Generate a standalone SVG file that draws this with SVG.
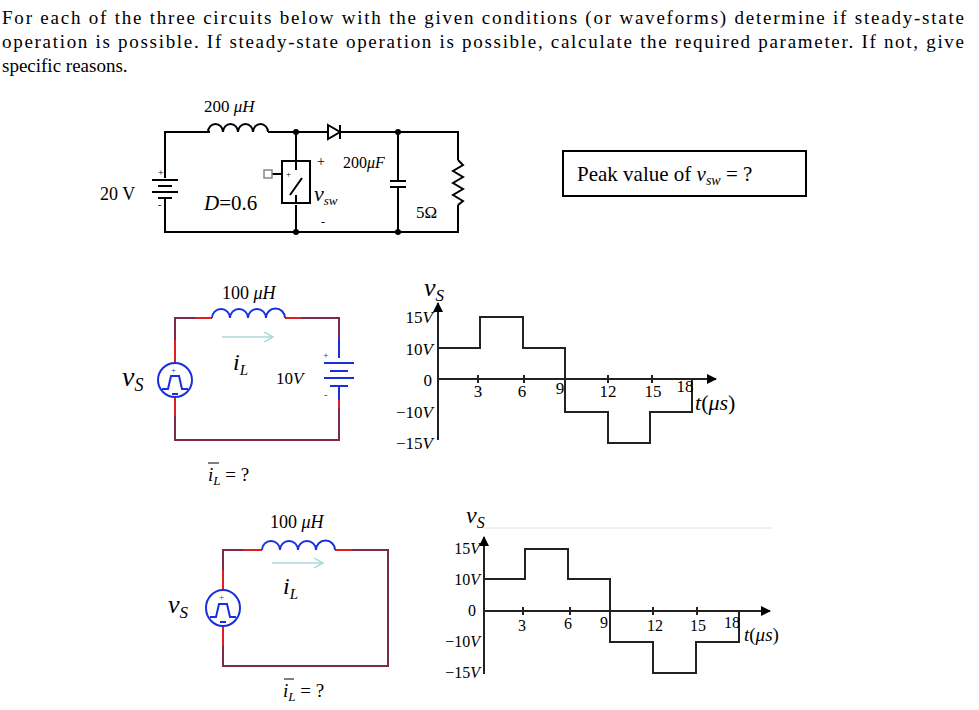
<svg xmlns="http://www.w3.org/2000/svg" width="979" height="710" viewBox="0 0 979 710">
<defs>
<style>
text{font-family:"Liberation Serif",serif;fill:#000}
.w{fill:none;stroke:#000;stroke-width:2}
.m{fill:none;stroke:#7a2a50;stroke-width:2}
.r{fill:none;stroke:#e02020;stroke-width:2}
.b{fill:none;stroke:#1a2ee0;stroke-width:2}
.ax{fill:none;stroke:#222;stroke-width:2}
.i{font-style:italic}
</style>
<marker id="ah" markerWidth="10" markerHeight="10" refX="9" refY="5" orient="auto" markerUnits="userSpaceOnUse"><path d="M0,0 L10,5 L0,10 Z" fill="#000"/></marker>
<marker id="la" markerWidth="10" markerHeight="10" refX="9" refY="5" orient="auto" markerUnits="userSpaceOnUse"><path d="M0,0 L9,5 L0,10" fill="none" stroke="#a8d8d8" stroke-width="1.5"/></marker>
</defs>
<rect width="979" height="710" fill="#fff"/>
<g id="intro" font-size="19">
<text x="2" y="24" textLength="962" lengthAdjust="spacing">For each of the three circuits below with the given conditions (or waveforms) determine if steady-state</text>
<text x="2" y="48" textLength="962" lengthAdjust="spacing">operation is possible.  If steady-state operation is possible, calculate the required parameter.  If not, give</text>
<text x="2" y="72">specific reasons.</text>
</g>
<g id="circuit1">
<path class="w" d="M210,132 H165 V178 M165,199 V232 H458 V205 M458,160 V132 H340 M328,132 H268 M296,132 V160 M296,205 V232 M398,132 V181 M398,187 V232"/>
<path class="w" d="M208,132 a7.5,8 0 0 1 15,0 a7.5,8 0 0 1 15,0 a7.5,8 0 0 1 15,0 a7.5,8 0 0 1 15,0"/>
<path d="M328,125 L340,132 L328,139 Z" fill="none" stroke="#000" stroke-width="2"/><path class="w" d="M340,125 V139"/>
<path class="w" d="M152,180 H178 M158,186 H172 M152,192 H178 M158,198 H172"/>
<text x="158" y="176" font-size="10">+</text><text x="158" y="208" font-size="10">-</text>
<rect x="282" y="161" width="28" height="42" class="w"/>
<path class="w" d="M290,195 L302,178 M296,170 V161 M296,195 V203 M272,174 H282"/>
<rect x="264" y="170" width="8" height="8" fill="#fff" stroke="#888" stroke-width="1.5"/>
<text x="286" y="177" font-size="9">+</text>
<path class="w" d="M390,181 H406 M390,187 H406"/>
<path class="w" d="M458,160 l5,5 -10,6 10,6 -10,6 10,6 -10,6 10,6 -5,4"/>
<circle cx="296" cy="132" r="3"/><circle cx="296" cy="232" r="3"/><circle cx="398" cy="132" r="3"/><circle cx="398" cy="232" r="3"/>
<text x="204" y="112" font-size="17">200 <tspan class="i">μH</tspan></text>
<text x="100" y="200" font-size="18">20 V</text>
<text x="204" y="210" font-size="21"><tspan class="i">D</tspan>=0.6</text>
<text x="317" y="166" font-size="14">+</text>
<text x="343" y="168" font-size="16">200<tspan class="i">μF</tspan></text>
<text x="314" y="201" font-size="22" class="i">v<tspan font-size="13" dy="4">sw</tspan></text>
<text x="321" y="226" font-size="12">-</text>
<text x="416" y="218" font-size="17">5Ω</text>
</g>
<g id="peakbox">
<rect x="563" y="151" width="243" height="45" fill="#fff" stroke="#000" stroke-width="2"/>
<text x="577" y="181" font-size="21">Peak value of <tspan class="i">v</tspan><tspan class="i" font-size="14" dy="4">sw</tspan><tspan dy="-4"> = ?</tspan></text>
</g>
<g id="circuit2">
<path class="m" d="M210,318 H175 V363 M175,397 V440 H339 V388 M339,355 V318 H285"/>
<path class="r" d="M195,318 H212 M285,318 H302 M175,340 V363 M175,397 V416 M339,388 V408"/>
<path class="b" d="M212,318 a9,9 0 0 1 18,0 a9,9 0 0 1 18,0 a9,9 0 0 1 18,0 a9,9 0 0 1 19,0"/>
<circle cx="175" cy="380" r="17" class="b"/>
<path class="b" d="M162,389 H168 L171,376 H179 L182,389 H188"/>
<text x="171" y="373" font-size="9" style="fill:#1a2ee0">+</text><path class="b" d="M172,394 H178" stroke-width="1.5"/>
<path class="b" d="M339,338 V358 M324,363 H354 M330,371 H348 M324,378 H354 M330,386 H348 M339,386 V400"/>
<text x="323" y="359" font-size="10" style="fill:#1a2ee0">+</text><text x="324" y="398" font-size="10" style="fill:#1a2ee0">-</text>
<path d="M222,337 H273" stroke="#a8d8d8" stroke-width="1.5" marker-end="url(#la)"/>
<text x="222" y="299" font-size="18">100 <tspan class="i">μH</tspan></text>
<text x="233" y="370" font-size="24" class="i">i<tspan font-size="15" dy="5">L</tspan></text>
<text x="276" y="384" font-size="17">10<tspan class="i">V</tspan></text>
<text x="122" y="386" font-size="28" class="i">v<tspan font-size="18" dy="5">S</tspan></text>
<text x="208" y="481" font-size="19" class="i">i<tspan font-size="13" dy="4">L</tspan><tspan font-style="normal" dy="-4"> = ?</tspan></text>
<path d="M208,463 H219" stroke="#000" stroke-width="1"/>
</g>
<g id="graph2">
<path class="ax" d="M438,440 V303" marker-end="url(#ah)"/>
<path class="ax" d="M438,379 H716" marker-end="url(#ah)"/>
<path class="ax" d="M478,375 V383 M524,375 V383 M608,375 V383 M652,375 V383"/>
<path class="ax" d="M438,348 H480 V317 H523 V348 H565 V412 H608 V443 H650 V412 H692 V379"/>
<text x="424" y="296" font-size="26" class="i">v<tspan font-size="17" dy="5">S</tspan></text>
<g font-size="17" text-anchor="end"><text x="433" y="323">15<tspan class="i">V</tspan></text><text x="433" y="355">10<tspan class="i">V</tspan></text><text x="432" y="386">0</text><text x="433" y="418">−10<tspan class="i">V</tspan></text><text x="433" y="449">−15<tspan class="i">V</tspan></text></g>
<g font-size="17" text-anchor="middle"><text x="478" y="397">3</text><text x="522" y="397">6</text><text x="560" y="394">9</text><text x="608" y="397">12</text><text x="653" y="397">15</text><text x="685" y="392">18</text></g>
<text x="695" y="410" font-size="22" class="i">t<tspan font-style="normal">(</tspan>μs<tspan font-style="normal">)</tspan></text>
</g>
<g id="circuit3">
<path class="m" d="M262,550 H223 V591 M223,625 V666 H388 V550 H335"/>
<path class="r" d="M243,550 H262 M335,550 H352 M223,570 V591 M223,625 V646"/>
<path class="b" d="M262,550 a9,9 0 0 1 18,0 a9,9 0 0 1 18,0 a9,9 0 0 1 18,0 a9,9 0 0 1 19,0"/>
<ellipse cx="223" cy="608" rx="17" ry="18" class="b"/>
<path class="b" d="M210,617 H216 L219,604 H227 L230,617 H236"/>
<text x="219" y="600" font-size="9" style="fill:#1a2ee0">+</text><path class="b" d="M220,622 H226" stroke-width="1.5"/>
<path d="M272,563 H323" stroke="#a8d8d8" stroke-width="1.5" marker-end="url(#la)"/>
<text x="270" y="528" font-size="18">100 <tspan class="i">μH</tspan></text>
<text x="283" y="594" font-size="24" class="i">i<tspan font-size="15" dy="5">L</tspan></text>
<text x="168" y="613" font-size="26" class="i">v<tspan font-size="17" dy="5">S</tspan></text>
<text x="283" y="697" font-size="19" class="i">i<tspan font-size="13" dy="4">L</tspan><tspan font-style="normal" dy="-4"> = ?</tspan></text>
<path d="M284,679 H294" stroke="#000" stroke-width="1"/>
</g>
<g id="graph3">
<path d="M484,528 H772" stroke="#e4e4e4" stroke-width="1"/>
<path class="ax" d="M484,674 V537" marker-end="url(#ah)"/>
<path class="ax" d="M484,611 H770" marker-end="url(#ah)"/>
<path class="ax" d="M523,607 V615 M570,607 V615 M653,607 V615 M697,607 V615"/>
<path class="ax" d="M484,579 H525 V549 H568 V579 H610 V642 H653 V673 H696 V642 H739 V611"/>
<text x="466" y="523" font-size="24" class="i">v<tspan font-size="16" dy="5">S</tspan></text>
<g font-size="16" text-anchor="end"><text x="480" y="554">15<tspan class="i">V</tspan></text><text x="480" y="585">10<tspan class="i">V</tspan></text><text x="476" y="616">0</text><text x="480" y="647">−10<tspan class="i">V</tspan></text><text x="480" y="678">−15<tspan class="i">V</tspan></text></g>
<g font-size="16" text-anchor="middle"><text x="522" y="631">3</text><text x="568" y="629">6</text><text x="604" y="628">9</text><text x="655" y="631">12</text><text x="698" y="631">15</text><text x="732" y="628">18</text></g>
<text x="744" y="641" font-size="19" class="i">t<tspan font-style="normal">(</tspan>μs<tspan font-style="normal">)</tspan></text>
</g>
</svg>
